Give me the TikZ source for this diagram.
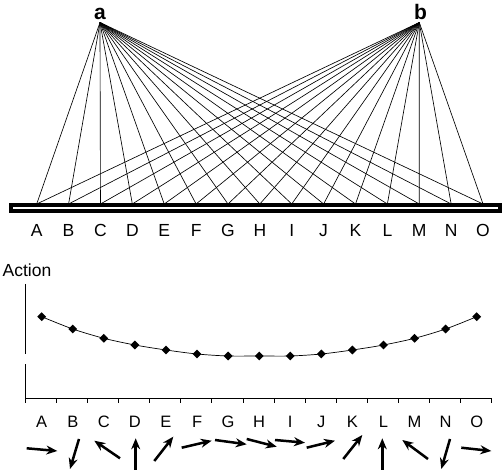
\documentclass[tikz,border=0pt]{standalone}
\usepackage{fontspec}
\setmainfont{Liberation Sans}
\usetikzlibrary{arrows.meta,shapes.geometric}
\begin{document}
\begin{tikzpicture}[x=1pt,y=-1pt,
  fan/.style={line width=0.65pt},
  apexlbl/.style={font=\fontsize{21}{21}\selectfont\bfseries, anchor=base, inner sep=0pt},
  toplbl/.style={font=\fontsize{17.5}{17.5}\selectfont, anchor=base, inner sep=0pt},
  botlbl/.style={font=\fontsize{16.5}{16.5}\selectfont, anchor=base, inner sep=0pt},
  dirarrow/.style={line width=2.5pt, -{Stealth[length=11pt,width=9pt]}},
  datapt/.style={diamond, fill=black, inner sep=0pt, minimum size=9pt},
  axisline/.style={line width=0.7pt}
]
\useasboundingbox (0,0) rectangle (504,470);

% apexes
\coordinate (a) at (100,22.5);
\coordinate (b) at (419.3,22.5);
\node[apexlbl] (la) at (100,19.5) {a};
\node[apexlbl] (lb) at (420.5,19.5) {b};

% fan lines and top labels
\foreach \L [count=\i from 0] in {A,B,C,D,E,F,G,H,I,J,K,L,M,N,O} {
  \coordinate (t\L) at ({36.7+31.88*\i},204);
  \node[toplbl] (n\L) at ({36.7+31.88*\i},236.7) {\L};
  \draw[fan] (a) -- (t\L);
  \draw[fan] (b) -- (t\L);
}

% bar
\draw[line width=4pt, fill=white] (11,204.7) rectangle (499.7,211.3);

% lower chart
\node[font=\fontsize{17.5}{17.5}\selectfont, anchor=base west, inner sep=0pt] (act) at (2.5,276.7) {Action};
\coordinate (ya1) at (25.3,284);
\coordinate (ya2) at (25.3,354);
\coordinate (yb1) at (25.3,364.3);
\coordinate (orig) at (25.3,398.3);
\coordinate (xend) at (491.7,398.3);
\draw[axisline] (ya1) -- (ya2);
\draw[axisline] (yb1) -- (orig);
\draw[axisline] (orig) -- (xend);
\foreach \k in {0,...,15} {
  \draw[axisline] ({25.3+31.09*\k},398.3) -- ++(0,5);
}

\draw[line width=0.7pt] plot[smooth] coordinates {
 (41.7,316.7) (72.77,329) (103.84,338.3) (134.91,345) (165.98,350)
 (197.05,354) (228.12,356) (259.19,356) (290.26,356) (321.33,354)
 (352.4,350) (383.47,345) (414.54,338.3) (445.61,329) (476.68,316.7)};

\foreach \L/\yy [count=\i from 0] in {A/316.7,B/329,C/338.3,D/345,E/350,F/354,G/356,H/356,I/356,J/354,K/350,L/345,M/338.3,N/329,O/316.7} {
  \node[datapt] (p\L) at ({41.7+31.07*\i},\yy) {};
  \node[botlbl] (m\L) at ({41.7+31.07*\i},427.3) {\L};
}

% direction arrows
\foreach \L/\xa/\ya/\xb/\yb in {
  A/26.7/448.3/57.3/451,
  B/79/439/70/469,
  C/120/458.3/94.3/440.7,
  D/135.7/470/135.7/438.3,
  E/154.3/461/173.3/436.7,
  F/181.7/447.7/211.7/440.7,
  G/215/440/246.7/444.3,
  H/246.7/439/276.7/446.7,
  I/275/440/305/442.7,
  J/306.7/447.7/335/440.7,
  K/343.3/459/362.3/435,
  L/382.3/470/382.3/438.3,
  M/428/459/402.3/440,
  N/450/439/441.3/469,
  O/461.3/447.7/491.3/451} {
  \coordinate (s\L) at (\xa,\ya);
  \coordinate (e\L) at (\xb,\yb);
  \draw[dirarrow] (s\L) -- (e\L);
}
\end{tikzpicture}
\end{document}
